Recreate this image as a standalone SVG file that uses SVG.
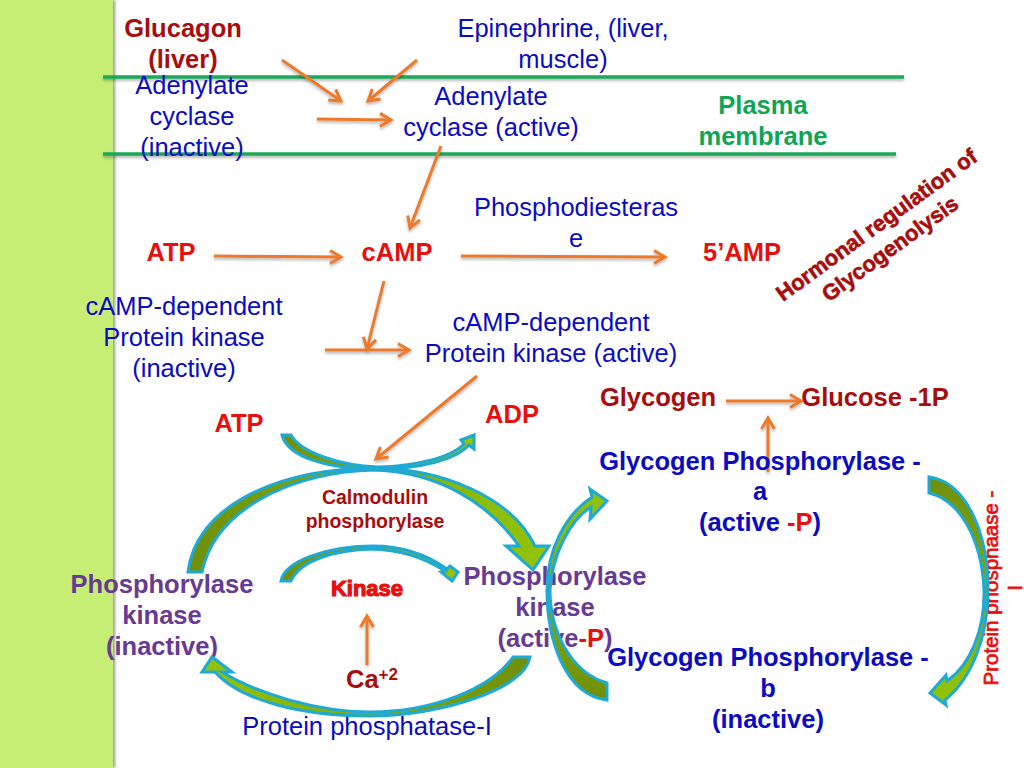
<svg xmlns="http://www.w3.org/2000/svg" width="1024" height="768" viewBox="0 0 1024 768">
<defs>
<style>
text{font-family:"Liberation Sans",Arial,sans-serif;font-size:25.5px;text-anchor:middle}
.b{font-weight:bold}
.blue{fill:#0b0bc4}
.dred{fill:#a80d0d}
.red{fill:#e80f0f}
.pur{fill:#673a94}
.grn{fill:#10a555}
.mem{stroke:#1aa858;stroke-width:3.500;fill:none;filter:url(#sh)}
.or{stroke:#ec7a2c;stroke-width:3;fill:none;marker-end:url(#ah);filter:url(#sh)}
.arc{stroke:#1eaad4;stroke-width:3;stroke-linejoin:miter}
</style>
<filter id="sh" filterUnits="userSpaceOnUse" x="0" y="0" width="1024" height="768"><feDropShadow dx="0" dy="2" stdDeviation="1.500" flood-color="#000" flood-opacity=".3"/></filter>
<filter id="ps" filterUnits="userSpaceOnUse" x="0" y="0" width="1024" height="768"><feDropShadow dx="2" dy="0" stdDeviation="1.500" flood-color="#000" flood-opacity=".4"/></filter>
<linearGradient id="lr" x1="0" y1="0" x2="1" y2="0"><stop offset="0" stop-color="#6f8f0a"/><stop offset="1" stop-color="#92c50a"/></linearGradient>
<linearGradient id="rl" x1="1" y1="0" x2="0" y2="0"><stop offset="0" stop-color="#6f8f0a"/><stop offset="1" stop-color="#92c50a"/></linearGradient>
<linearGradient id="bt" x1="0" y1="1" x2="0" y2="0"><stop offset="0" stop-color="#6f8f0a"/><stop offset="1" stop-color="#92c50a"/></linearGradient>
<linearGradient id="tb" x1="0" y1="0" x2="0" y2="1"><stop offset="0" stop-color="#6f8f0a"/><stop offset="1" stop-color="#92c50a"/></linearGradient>
<marker id="ah" markerUnits="userSpaceOnUse" markerWidth="18" markerHeight="18" refX="14" refY="8" orient="auto"><path d="M3,1.500 L14,8 L3,14.500" fill="none" stroke="#ec7a2c" stroke-width="3"/></marker>
</defs>
<rect width="1024" height="768" fill="#fff"/>
<rect id="panel" x="0" y="0" width="113" height="768" fill="#c6ee74" filter="url(#ps)"/>
<g id="membranes">
<line class="mem" x1="103" y1="77" x2="904" y2="77"/>
<line class="mem" x1="103" y1="154" x2="896" y2="154"/>
</g>
<g id="back-connector"><line class="or" x1="768" y1="472" x2="768" y2="418"/></g>
<g id="n-glucagon"><text class="b dred" x="183" y="37">Glucagon</text><text class="b dred" x="183" y="68">(liver)</text></g>
<g id="n-epi"><text class="blue" x="563" y="37">Epinephrine, (liver,</text><text class="blue" x="563" y="68">muscle)</text></g>
<g id="n-ac-in"><text class="blue" x="192" y="94">Adenylate</text><text class="blue" x="192" y="125">cyclase</text><text class="blue" x="192" y="156">(inactive)</text></g>
<g id="n-ac-act"><text class="blue" x="491" y="105">Adenylate</text><text class="blue" x="491" y="136">cyclase (active)</text></g>
<g id="n-plasma"><text class="b grn" x="763" y="114">Plasma</text><text class="b grn" x="763" y="145">membrane</text></g>
<g id="n-atp1"><text class="b red" x="171" y="261">ATP</text></g>
<g id="n-camp"><text class="b red" x="397" y="261">cAMP</text></g>
<g id="n-5amp"><text class="b red" x="742" y="261">5’AMP</text></g>
<g id="n-pde"><text class="blue" x="576" y="216">Phosphodiesteras</text><text class="blue" x="576" y="247">e</text></g>
<g id="n-title"><g transform="translate(881,231) rotate(-36)"><text class="b dred" x="0" y="0" style="font-size:22px;stroke:#a80d0d;stroke-width:.6">Hormonal regulation of</text><text class="b dred" x="-3" y="27" style="font-size:22px;stroke:#a80d0d;stroke-width:.6">Glycogenolysis</text></g></g>
<g id="n-pk-in"><text class="blue" x="184" y="315">cAMP-dependent</text><text class="blue" x="184" y="346">Protein kinase</text><text class="blue" x="184" y="377">(inactive)</text></g>
<g id="n-pk-act"><text class="blue" x="551" y="331">cAMP-dependent</text><text class="blue" x="551" y="362">Protein kinase (active)</text></g>
<g id="n-atp2"><text class="b red" x="239" y="432">ATP</text></g>
<g id="n-adp"><text class="b red" x="512" y="423">ADP</text></g>
<g id="n-glycogen"><text class="b dred" x="658" y="406">Glycogen</text></g>
<g id="n-g1p"><text class="b dred" x="875" y="406">Glucose -1P</text></g>
<g id="n-gpa"><text class="b blue" x="760" y="470">Glycogen Phosphorylase -</text><text class="b blue" x="760" y="500">a</text><text class="b blue" x="760" y="531">(active <tspan class="red">-P</tspan>)</text></g>
<g id="n-calm"><text class="b dred" x="375" y="504" style="font-size:19.500px">Calmodulin</text><text class="b dred" x="375" y="528" style="font-size:19.500px">phosphorylase</text></g>
<g id="n-kinase"><text class="b red" x="367" y="596" style="font-size:22px;stroke:#e80f0f;stroke-width:1.200">Kinase</text></g>
<g id="n-ca"><text class="b dred" x="372" y="688">Ca<tspan style="font-size:17px" dy="-8">+2</tspan></text></g>
<g id="n-phk-in"><text class="b pur" x="162" y="593">Phosphorylase</text><text class="b pur" x="162" y="624">kinase</text><text class="b pur" x="162" y="655">(inactive)</text></g>
<g id="n-phk-act"><text class="b pur" x="555" y="585">Phosphorylase</text><text class="b pur" x="555" y="616">kinase</text><text class="b pur" x="555" y="647">(active<tspan class="red">-P</tspan>)</text></g>
<g id="n-gpb"><text class="b blue" x="768" y="666">Glycogen Phosphorylase -</text><text class="b blue" x="768" y="697">b</text><text class="b blue" x="768" y="728">(inactive)</text></g>
<g id="n-pp1"><text class="blue" x="367" y="735">Protein phosphatase-I</text></g>
<g id="n-pp-v"><g transform="translate(998,588) rotate(-90)"><text class="red" x="0" y="0" style="font-size:20.500px;stroke:#e80f0f;stroke-width:.7">Protein phosphaase -</text><text class="red" x="0" y="24" style="font-size:20.500px;stroke:#e80f0f;stroke-width:.7">I</text></g></g>
<g id="connectors">
<line class="or" x1="282" y1="60" x2="341" y2="101"/>
<line class="or" x1="417" y1="60" x2="368" y2="101"/>
<line class="or" x1="317" y1="119" x2="391" y2="120"/>
<line class="or" x1="441" y1="146" x2="410" y2="228"/>
<line class="or" x1="214" y1="256" x2="341" y2="257"/>
<line class="or" x1="461" y1="256" x2="665" y2="257"/>
<line class="or" x1="384" y1="281" x2="367" y2="349"/>
<line class="or" x1="325" y1="350" x2="409" y2="350"/>
<line class="or" x1="477" y1="376" x2="376" y2="459"/>
<line class="or" x1="726" y1="401" x2="801" y2="401"/>
<line class="or" x1="367" y1="665" x2="367" y2="616"/>
<path class="arc" fill="url(#lr)" d="M282,435 L291,435 C300,452 340,466 378,467 C415,466 450,458 464,444 L461,440 L474,435 L474,449 L469,445 C455,460 420,469 378,469 C330,469 288,458 282,435 Z"/>
<path class="arc" fill="url(#lr)" d="M188,572 C195,510 270,469 375,468 C440,469 510,495 535,546 L549,546 L533,570 L506,546 L519,546 C490,505 440,472 375,470 C290,472 215,510 202,572 Z"/>
<path class="arc" fill="url(#lr)" d="M281,581 C285,560 330,546 373,546 C405,546 430,557 447,569 L450,566 L458,572 L452,581 L441,572 L445,571 C425,558 400,550 373,549 C335,550 300,560 291,581 Z"/>
<path class="arc" fill="url(#rl)" d="M530,657 C525,690 440,715 370,716 C300,716 240,700 215,672 L202,672 L212,657 L232,672 L222,672 C260,695 320,712 370,712 C430,712 490,690 513,657 Z"/>
<path class="arc" fill="url(#bt)" d="M607,700 C565,695 547,640 547,590 C547,550 565,515 592,497 L590,489 L607,501 L590,519 L591,507 C570,520 552,555 550,590 C550,630 570,672 607,683 Z"/>
<path class="arc" fill="url(#tb)" d="M929,477 C965,482 988,530 988,590 C988,640 970,680 945,700 L946,705 L930,693 L946,675 L947,681 C970,665 985,630 984,590 C982,540 960,500 929,493 Z"/>
</g>
</svg>
